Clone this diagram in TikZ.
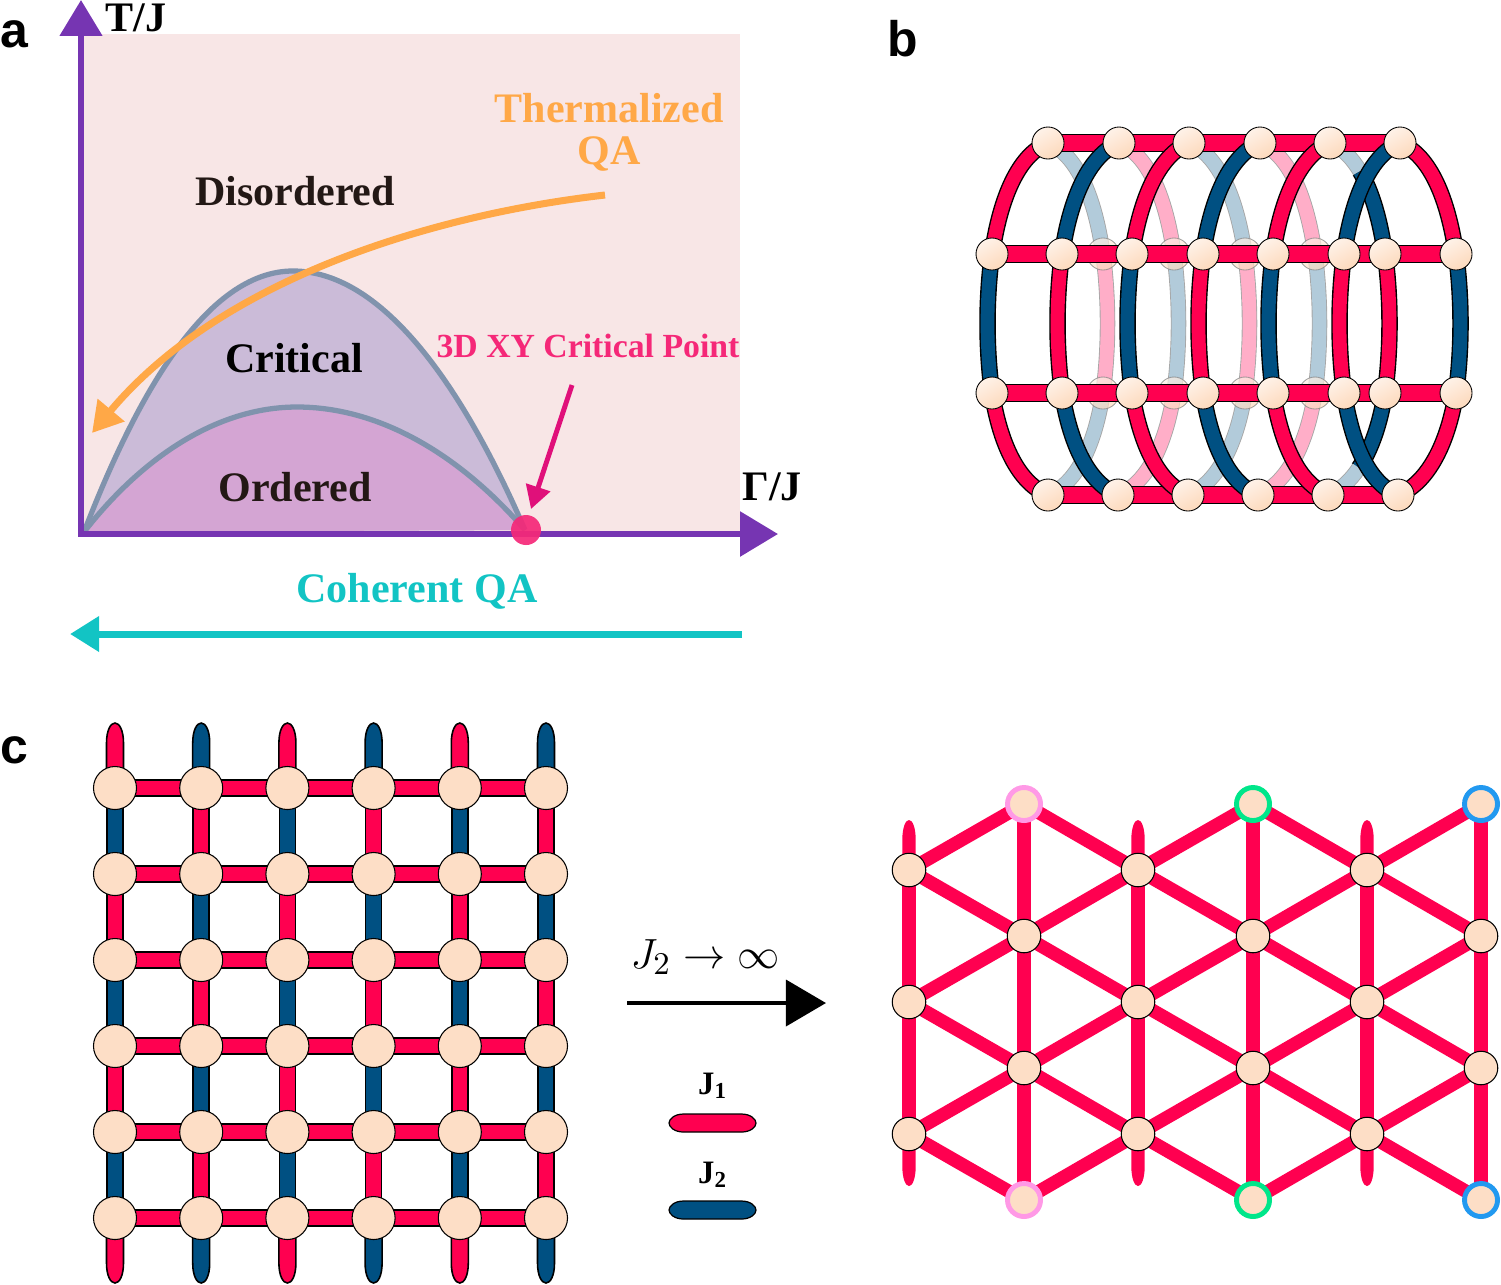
\documentclass[tikz,border=0pt]{standalone}
\usepackage{fontspec}
\setmainfont{Liberation Serif}
\newfontfamily\panelfont{Liberation Sans}
\usepackage{xcolor}
\usepackage{tikz}
\usetikzlibrary{arrows.meta}

\definecolor{jred}{HTML}{FF0050}
\definecolor{jblue}{HTML}{005082}
\definecolor{jpink}{HTML}{FFAEC8}
\definecolor{jsky}{HTML}{B2CBDA}
\definecolor{peach}{HTML}{FDDEC6}
\definecolor{phasebg}{HTML}{F8E6E6}
\definecolor{critfill}{HTML}{CBBBD8}
\definecolor{orderfill}{HTML}{D4A5D3}
\definecolor{axispurple}{HTML}{7635B2}
\definecolor{domeline}{HTML}{8093AD}
\definecolor{annealorange}{HTML}{FFA847}
\definecolor{criticalpink}{HTML}{E0107A}
\definecolor{criticaltext}{HTML}{F52878}
\definecolor{coherentteal}{HTML}{12C4C4}
\definecolor{darktext}{HTML}{231815}
\definecolor{ringpink}{HTML}{FF99E6}
\definecolor{ringgreen}{HTML}{00E68A}
\definecolor{ringblue}{HTML}{2299F0}

\pgfdeclarelayer{rearbonds}
\pgfdeclarelayer{rearnodes}
\pgfdeclarelayer{bonds}
\pgfsetlayers{rearbonds,rearnodes,bonds,main}

\tikzset{
    phase/.style={font=\fontsize{11.95}{14}\selectfont\bfseries},
    panel/.style={font=\panelfont\fontsize{14.2}{16}\selectfont\bfseries},
    site/.style={circle, draw=black, line width=0.3pt, fill=peach, inner sep=0pt, minimum size=0.43cm},
    ball/.style={circle, draw=black, line width=0.25pt, inner sep=0pt, minimum size=0.32cm,
        left color=peach!40!white, right color=peach!95!orange, shading angle=30},
    tsite/.style={circle, draw=black, line width=0.3pt, fill=peach, inner sep=0pt, minimum size=0.335cm},
    ringsite/.style={circle, draw=#1, line width=1.4pt, fill=peach, inner sep=0pt, minimum size=0.33cm},
    bond/.style={line width=0.4pt, double=#1, double distance=3.9pt},
    rowbond/.style={line width=0.3pt, double=jred, double distance=4.7pt},
    rearbond/.style={draw=gray!70, line width=0.25pt, double=#1, double distance=3.9pt},
    gridbond/.style={line width=0.45pt, double=#1, double distance=4.1pt},
    tribond/.style={draw=jred, line width=3.8pt},
    legendbond/.style={draw=black, line width=0.35pt, fill=#1},
}

% rounded end of a bond that leaves the lattice
\newcommand{\bondend}[5]{
    \draw[#1, shift={(#2.center)}, yscale=#3] (-#4,0) -- (-#4,{-#5+20})
        .. controls (-#4,{-#5+7}) and ({-#4/2},-#5) .. (0,-#5)
        .. controls ({#4/2},-#5) and (#4,{-#5+7}) .. (#4,{-#5+20}) -- (#4,0) -- cycle;
}

\begin{document}
\begin{tikzpicture}[x=0.01cm, y=-0.01cm, >=latex]
    \useasboundingbox (0,0) rectangle (1501,1284);

    % Panel a: phase diagram
    \node[panel] (labela) at (14,34) {a};
    \fill[phasebg] (84,34) rectangle (740,534);
    \draw[domeline, line width=1.5pt, fill=critfill] (84,532)
        .. controls (135,400) and (205,271) .. (293,271)
        .. controls (380,271) and (460,380) .. (525,530);
    \draw[domeline, line width=1.5pt, fill=orderfill] (84,532)
        .. controls (140,460) and (215,407) .. (297,407)
        .. controls (380,407) and (460,455) .. (525,530);

    \coordinate (tmax) at (81,0);
    \coordinate (origin) at (81,534);
    \coordinate (gmax) at (778,534);
    \draw[axispurple, line width=1.7pt, {Triangle[length=10.2pt,width=11.8pt]}-{Triangle[length=10.8pt,width=12.5pt]}]
        (tmax) -- (origin) -- (gmax);
    \node[phase] (tlabel) at (136,18) {T/J};
    \node[phase] (glabel) at (772,487) {Γ/J};

    \node[circle, fill=criticaltext, opacity=0.92, inner sep=0pt, minimum size=0.3cm] (crit) at (526,530) {};
    \coordinate (pointfrom) at (572,385);
    \coordinate (pointto) at (531,509);
    \draw[criticalpink, line width=1.4pt, -{Triangle[length=6.5pt,width=7pt]}] (pointfrom) -- (pointto);

    \coordinate (thermfrom) at (605,195);
    \coordinate (thermto) at (92,433);
    \draw[annealorange, line width=2pt, -{Triangle[length=8.5pt,width=9.5pt]}] (thermfrom)
        .. controls (430,215) and (220,280) .. (thermto);

    \coordinate (cohfrom) at (742,634);
    \coordinate (cohto) at (70,634);
    \draw[coherentteal, line width=2pt, -{Triangle[length=8.3pt,width=9.7pt]}] (cohfrom) -- (cohto);

    \node[phase, text=annealorange, align=center] (thermal) at (609,132) {Thermalized\\[-2pt]QA};
    \node[phase, text=darktext] (disordered) at (295,191) {Disordered};
    \node[phase] (critical) at (294,358) {Critical};
    \node[phase, text=darktext] (ordered) at (295,487) {Ordered};
    \node[font=\fontsize{9.6}{12}\selectfont\bfseries, text=criticaltext] (critlabel) at (588,346) {3D XY Critical Point};
    \node[phase, text=coherentteal] (coherent) at (417,591) {Coherent QA};

    % Panel b: cylinder
    \node[panel] (labelb) at (903,39) {b};
    \foreach \i/\xt/\xb/\xf/\xr in {1/1048/1048/992/1103, 2/1119/1118/1062/1174, 3/1189/1188/1132/1245,
                                    4/1260/1258/1203/1315, 5/1330/1328/1273/1385, 6/1400/1398/1344/1456} {
        \node[ball] (top\i) at (\xt,143) {};
        \node[ball] (bot\i) at (\xb,495) {};
        \node[ball] (fu\i) at (\xf,254) {};
        \node[ball] (fl\i) at (\xf,393) {};
        \ifnum\i>4
            \node[ball] (ru\i) at (\xr,254) {};
            \node[ball] (rl\i) at (\xr,393) {};
        \else
            \begin{pgfonlayer}{rearnodes}
                \node[ball, draw=gray, opacity=0.7] (ru\i) at (\xr,254) {};
                \node[ball, draw=gray, opacity=0.7] (rl\i) at (\xr,393) {};
            \end{pgfonlayer}
        \fi
    }
    \begin{pgfonlayer}{rearbonds}
        \foreach \i/\ca/\cb in {1/jsky/jpink, 2/jpink/jsky, 3/jsky/jpink, 4/jpink/jsky} {
            \draw[rearbond=\ca] (top\i.center) .. controls +(30,12) and +(-8,-55) .. (ru\i.center);
            \draw[rearbond=\cb] (ru\i.center) .. controls +(6,45) and +(6,-45) .. (rl\i.center);
            \draw[rearbond=\ca] (rl\i.center) .. controls +(-8,50) and +(30,-12) .. (bot\i.center);
        }
    \end{pgfonlayer}
    \begin{pgfonlayer}{bonds}
        % last two rings are seen whole
        \coordinate (cross1) at (1360,171.4);
        \coordinate (cross2) at (1358.8,468);
        \draw[rearbond=jsky] (top5.center) .. controls (1342,147.8) and (1352,157.7) .. (cross1);
        \draw[bond=jblue] (cross1) .. controls (1372.2,191.9) and (1380.2,221) .. (ru5.center);
        \draw[bond=jred] (ru5.center) .. controls +(6,45) and +(6,-45) .. (rl5.center);
        \draw[bond=jblue] (rl5.center) .. controls (1380.2,423) and (1371.6,449) .. (cross2);
        \draw[rearbond=jsky] (cross2) .. controls (1350.3,480.8) and (1340,490.2) .. (bot5.center);
        \draw[bond=jred] (top6.center) .. controls +(30,12) and +(-8,-55) .. (ru6.center);
        \draw[bond=jblue] (ru6.center) .. controls +(6,45) and +(6,-45) .. (rl6.center);
        \draw[bond=jred] (rl6.center) .. controls +(-8,50) and +(30,-12) .. (bot6.center);

        \draw[rowbond] (top1.center) -- (top6.center);
        \draw[rowbond] (bot1.center) -- (bot6.center);
        \foreach \i/\ca/\cb in {1/jred/jblue, 2/jblue/jred, 3/jred/jblue, 4/jblue/jred, 5/jred/jblue, 6/jblue/jred} {
            \draw[bond=\ca] (top\i.center) .. controls +(-30,12) and +(8,-55) .. (fu\i.center);
            \draw[bond=\cb] (fu\i.center) .. controls +(-6,45) and +(-6,-45) .. (fl\i.center);
            \draw[bond=\ca] (fl\i.center) .. controls +(8,50) and +(-30,-12) .. (bot\i.center);
        }
        \draw[rowbond] (fu1.center) -- (ru6.center);
        \draw[rowbond] (fl1.center) -- (rl6.center);
    \end{pgfonlayer}

    % Panel c: square lattice
    \node[panel] (labelc) at (14,750) {c};
    \foreach \cl in {1,...,6} {
        \foreach \rw in {1,...,6} {
            \node[site] (s\cl-\rw) at ({115+86.2*(\cl-1)},{788+86*(\rw-1)}) {};
        }
    }
    \begin{pgfonlayer}{bonds}
        \foreach \rw in {1,...,6} {
            \draw[gridbond=jred] (s1-\rw.center) -- (s6-\rw.center);
        }
        \foreach \cl in {1,...,6} {
            \ifodd\cl \def\endcol{jred} \else \def\endcol{jblue} \fi
            \bondend{draw=black, line width=0.45pt, fill=\endcol}{s\cl-1}{1}{8.5}{65}
            \bondend{draw=black, line width=0.45pt, fill=\endcol}{s\cl-6}{-1}{8.5}{65}
            \foreach \rw/\nx in {1/2,2/3,3/4,4/5,5/6} {
                \ifodd\numexpr\cl+\rw\relax \def\linkcol{jred} \else \def\linkcol{jblue} \fi
                \draw[gridbond=\linkcol] (s\cl-\rw.center) -- (s\cl-\nx.center);
            }
        }
    \end{pgfonlayer}

    % Limit arrow and legend
    \node[font=\fontsize{12.4}{14}\selectfont] (limit) at (705,957) {$J_2\to\infty$};
    \coordinate (limitfrom) at (627,1003);
    \coordinate (limitto) at (826,1003);
    \draw[line width=1.4pt, -{Triangle[length=11.4pt,width=13pt]}] (limitfrom) -- (limitto);
    \node[font=\fontsize{9.3}{11}\selectfont\bfseries] (jone) at (713,1086) {J\textsubscript{1}};
    \node[font=\fontsize{9.3}{11}\selectfont\bfseries] (jtwo) at (713,1175) {J\textsubscript{2}};
    \foreach \nm/\yy/\pillcol in {pillone/1123/jred, pilltwo/1210/jblue} {
        \coordinate (\nm) at (712.5,\yy);
        \draw[legendbond=\pillcol, shift={(\nm)}] (-29,-9) -- (29,-9)
            .. controls (38,-9) and (43.5,-4) .. (43.5,0) .. controls (43.5,4) and (38,9) .. (29,9)
            -- (-29,9) .. controls (-38,9) and (-43.5,4) .. (-43.5,0) .. controls (-43.5,-4) and (-38,-9) .. (-29,-9) -- cycle;
    }

    % Triangular lattice
    \foreach \cl/\xx in {2/1024, 4/1253, 6/1481} {
        \foreach \rw in {1,2} {
            \node[tsite] (t\cl-\rw) at (\xx,{804+132*\rw}) {};
        }
    }
    \foreach \cl/\xx in {1/909, 3/1138, 5/1367} {
        \foreach \rw in {1,2,3} {
            \node[tsite] (t\cl-\rw) at (\xx,{738+132*\rw}) {};
        }
    }
    \foreach \cl/\xx/\ringcol in {2/1024/ringpink, 4/1253/ringgreen, 6/1481/ringblue} {
        \node[ringsite=\ringcol] (t\cl-0) at (\xx,804) {};
        \node[ringsite=\ringcol] (t\cl-3) at (\xx,1200) {};
    }
    \begin{pgfonlayer}{bonds}
        \foreach \cl in {2,4,6} {
            \draw[tribond] (t\cl-0.center) -- (t\cl-3.center);
        }
        \foreach \cl in {1,3,5} {
            \draw[tribond] (t\cl-1.center) -- (t\cl-3.center);
            \bondend{draw=none, fill=jred}{t\cl-1}{1}{6.7}{50}
            \bondend{draw=none, fill=jred}{t\cl-3}{-1}{6.7}{52}
        }
        \foreach \cl/\nb in {1/2, 3/2, 3/4, 5/4, 5/6} {
            \foreach \rw/\up in {1/0, 2/1, 3/2} {
                \draw[tribond] (t\cl-\rw.center) -- (t\nb-\up.center);
                \draw[tribond] (t\cl-\rw.center) -- (t\nb-\rw.center);
            }
        }
    \end{pgfonlayer}
\end{tikzpicture}
\end{document}
